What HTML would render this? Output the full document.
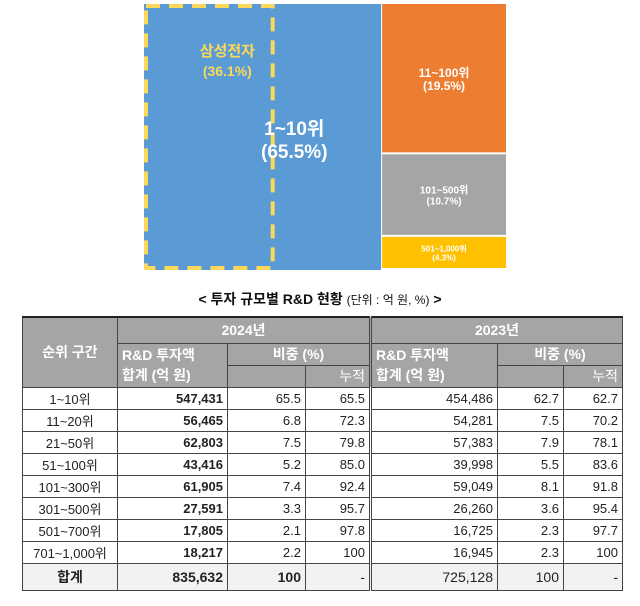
<!DOCTYPE html>
<html><head><meta charset="utf-8">
<style>
body{margin:0;width:640px;height:606px;background:#fff;font-family:"Liberation Sans","Noto Sans CJK KR",sans-serif;position:relative;overflow:hidden}
#tm{position:absolute;left:0;top:0}
#title{position:absolute;left:0;top:289px;width:640px;text-align:center;font-size:14px;font-weight:bold;color:#111}
#title small{font-weight:normal;font-size:12px}
table{position:absolute;left:22px;top:316px;border-collapse:collapse;font-size:13px;color:#222;table-layout:fixed}
td,th{border:1px solid #444;padding:0 4px;height:21px;text-align:right;white-space:nowrap}
th{background:#a5a5a5;color:#fff;font-weight:bold;text-align:center;font-size:14px}
th.l{text-align:left}
th.n{text-align:right;font-weight:normal;background:#a5a5a5}
td.c{text-align:center}
td.b{font-weight:bold}
tr.tot td{background:#f2f2f2;height:26px;font-size:14px}
.dl{border-left:3px double #444}
table{border-top:2px solid #222}
</style></head><body>
<svg id="tm" width="640" height="285"></svg>
<div id="title">&lt; 투자 규모별 R&amp;D 현황 <small>(단위 : 억 원, %)</small> &gt;</div>
<table>
<colgroup><col style="width:95px"><col style="width:110px"><col style="width:78px"><col style="width:65px"><col style="width:127px"><col style="width:66px"><col style="width:59px"></colgroup>
<tr style="height:26px"><th rowspan="3">순위 구간</th><th colspan="3">2024년</th><th colspan="3" class="dl">2023년</th></tr>
<tr><th rowspan="2" class="l">R&amp;D 투자액<br>합계 (억 원)</th><th colspan="2">비중 (%)</th><th rowspan="2" class="l dl">R&amp;D 투자액<br>합계 (억 원)</th><th colspan="2">비중 (%)</th></tr>
<tr><th style="border:none;border-right:1px solid #444"></th><th class="n">누적</th><th style="border:none;border-right:1px solid #444"></th><th class="n">누적</th></tr>
<tbody id="tb"></tbody>
</table>
<script>
const tmLabels=["1~10위","11~100위","101~500위","501~1,000위"];
const tmValues=[65.5,19.5,10.7,4.3];
const tmColors=["#5b9bd5","#ed7d31","#a5a5a5","#ffc000"];
const samsungShare=36.1;
const ns="http://www.w3.org/2000/svg";
const svg=document.getElementById('tm');
const X0=144,Y0=4,W=362,H=266;
function mk(t,a){const e=document.createElementNS(ns,t);for(const k in a)e.setAttribute(k,a[k]);svg.appendChild(e);return e;}
const total=tmValues.reduce((a,b)=>a+b,0);
const bw=W*tmValues[0]/total;
let r=mk('rect',{x:X0,y:Y0,width:bw,height:H,fill:tmColors[0]});


const rest=total-tmValues[0];let y=Y0;
const rects=[[X0,Y0,bw,H]];
for(let i=1;i<tmValues.length;i++){
 const h=H*tmValues[i]/rest;
 const rr=mk('rect',{x:X0+bw+1,y:y,width:W-bw-1,height:h-2,fill:tmColors[i]});
 
 
 rects.push([X0+bw+1,y,W-bw-1,h-2]);y+=h;
}
const sw=bw*samsungShare/tmValues[0];
const d=mk('rect',{x:X0+2,y:Y0+2,width:sw-4,height:H-4,fill:'none',stroke:'#fbd85a','stroke-width':4,'stroke-dasharray':'14 9'});


function txt(x,y,s,sz,fill){const t=mk('text',{x:x,y:y,'font-size':sz,'font-weight':'bold',fill:fill,'text-anchor':'middle','font-family':'Liberation Sans, Noto Sans CJK KR, sans-serif'});t.textContent=s;return t;}
txt(X0+(sw)/2+18,56,'삼성전자',15,'#fbd85a');
txt(X0+(sw)/2+18,76,'('+samsungShare.toFixed(1)+'%)',14,'#fbd85a');
const sizes=[19,12,10,8];
rects.forEach((q,i)=>{const cx=i==0?X0+bw*0.6+8:q[0]+q[2]/2,cy=q[1]+q[3]/2;const s=sizes[i];
 txt(cx,cy-(i==0?2:1),tmLabels[i],s,'#fff');txt(cx,cy+s+(i==0?2:0),'('+tmValues[i]+'%)',s,'#fff');});

const ranks=["1~10위","11~20위","21~50위","51~100위","101~300위","301~500위","501~700위","701~1,000위"];
const amt24=["547,431","56,465","62,803","43,416","61,905","27,591","17,805","18,217"];
const shr24=["65.5","6.8","7.5","5.2","7.4","3.3","2.1","2.2"];
const cum24=["65.5","72.3","79.8","85.0","92.4","95.7","97.8","100"];
const amt23=["454,486","54,281","57,383","39,998","59,049","26,260","16,725","16,945"];
const shr23=["62.7","7.5","7.9","5.5","8.1","3.6","2.3","2.3"];
const cum23=["62.7","70.2","78.1","83.6","91.8","95.4","97.7","100"];
const tb=document.getElementById('tb');
function row(cells,cls,name){const tr=document.createElement('tr');if(cls)tr.className=cls;
 
 
 cells.forEach(c=>{const td=document.createElement('td');td.textContent=c[0];td.className=c[1];tr.appendChild(td);});tb.appendChild(tr);}
ranks.forEach((k,i)=>row([[k,'c'],[amt24[i],'b'],[shr24[i],''],[cum24[i],''],[amt23[i],'dl'],[shr23[i],''],[cum23[i],'']],'','row-'+i));
row([['합계','c b'],['835,632','b'],['100','b'],['-',''],['725,128','dl'],['100',''],['-','']],'tot','total-row');
</script>
</body></html>
